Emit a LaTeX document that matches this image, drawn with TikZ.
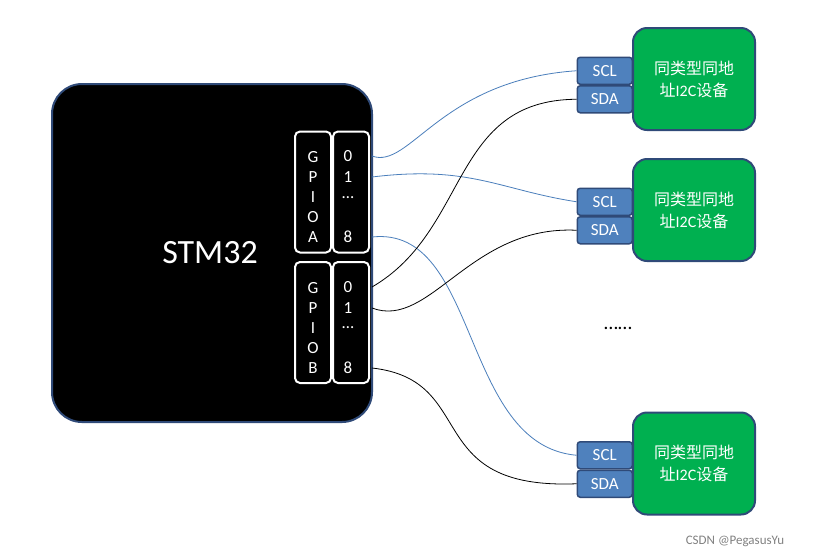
\documentclass[tikz,border=0pt]{standalone}
\usepackage{fontspec}
\setmainfont{Carlito}
\newfontfamily\cjk{Noto Sans CJK SC}
\usetikzlibrary{positioning}
\definecolor{edgeblue}{HTML}{2F4A78}
\definecolor{devgreen}{HTML}{00B050}
\definecolor{pinblue}{HTML}{4F81BD}
\definecolor{wireblue}{HTML}{4A7EBB}
\tikzset{
  mcu/.style={draw=edgeblue,line width=2pt,fill=black,rounded corners=30pt},
  port/.style={draw=white,line width=2pt,fill=black,rounded corners=5pt,minimum width=36pt,minimum height=121pt},
  plabel/.style={text=white,font=\fontsize{17}{20}\selectfont,align=center},
  dev/.style={draw=edgeblue,line width=2pt,fill=devgreen,rounded corners=14pt,minimum width=122pt,minimum height=102pt,text=white,font=\cjk\fontsize{16}{22}\selectfont,align=center},
  sig/.style={draw=edgeblue,line width=1.5pt,fill=pinblue,rounded corners=3pt,minimum width=55pt,minimum height=27pt,text=white,font=\fontsize{17}{18}\selectfont,inner sep=0pt},
  bw/.style={draw=wireblue,line width=0.8pt},
  kw/.style={draw=black,line width=0.8pt}
}
\begin{document}
\begin{tikzpicture}[x=1pt,y=-1pt]
  \useasboundingbox (0,0) rectangle (813,558);
  \draw[mcu] (52,84) rectangle (372,422);
  \node[text=white,font=\fontsize{34}{36}\selectfont] (stm) at (210,253) {STM32};
  % ports
  \node[port] (ga) at (313,192) {};
  \node[port] (pa) at (351,192) {};
  \node[port] (gb) at (313,322.5) {};
  \node[port] (pb) at (351,322.5) {};
  \node[plabel] (la) at (313,196.5) {G\\P\\I\\O\\A};
  \node[plabel] (lb) at (313,327.5) {G\\P\\I\\O\\B};
  \foreach \p/\y/\t in {a0/156/0,a1/177/1,ad/198/…,a8/237/8,b0/287/0,b1/308/1,bd/328/…,b8/368/8}
  {
    \node[text=white,font=\fontsize{17}{18}\selectfont,inner sep=1pt] (t\p) at (348,\y) {\t};
    \coordinate (\p) at (372,\y);
  }
  % devices
  \foreach \d/\y in {1/79,2/210,3/463.5}
  {
    \node[dev] (dev\d) at (694,\y) {同类型同地\\址{\fontspec{Carlito}I2C}设备};
    \node[sig,anchor=south east] (scl\d) at ([xshift=1pt,yshift=-6pt]dev\d.west) {SCL};
    \node[sig,anchor=north east] (sda\d) at ([xshift=1pt,yshift=-6pt]dev\d.west) {SDA};
  }
  % wires
  \draw[bw] (a0) .. controls (410,170) and (440,80) .. (scl1.west);
  \draw[bw] (a1) .. controls (470,165) and (500,190) .. (scl2.west);
  \draw[bw] (a8) .. controls (480,225) and (460,445) .. (scl3.west);
  \draw[kw] (b0) .. controls (470,230) and (450,100) .. (sda1.west);
  \draw[kw] (b1) .. controls (430,330) and (470,225) .. (sda2.west);
  \draw[kw] (b8) .. controls (480,380) and (420,490) .. (sda3.west);
  \node[font=\fontsize{20}{22}\selectfont] (dots) at (618,328) {……};
  \node[text=gray,font=\fontsize{13}{14}\selectfont] (wm) at (735,541) {CSDN @PegasusYu};
\end{tikzpicture}
\end{document}
